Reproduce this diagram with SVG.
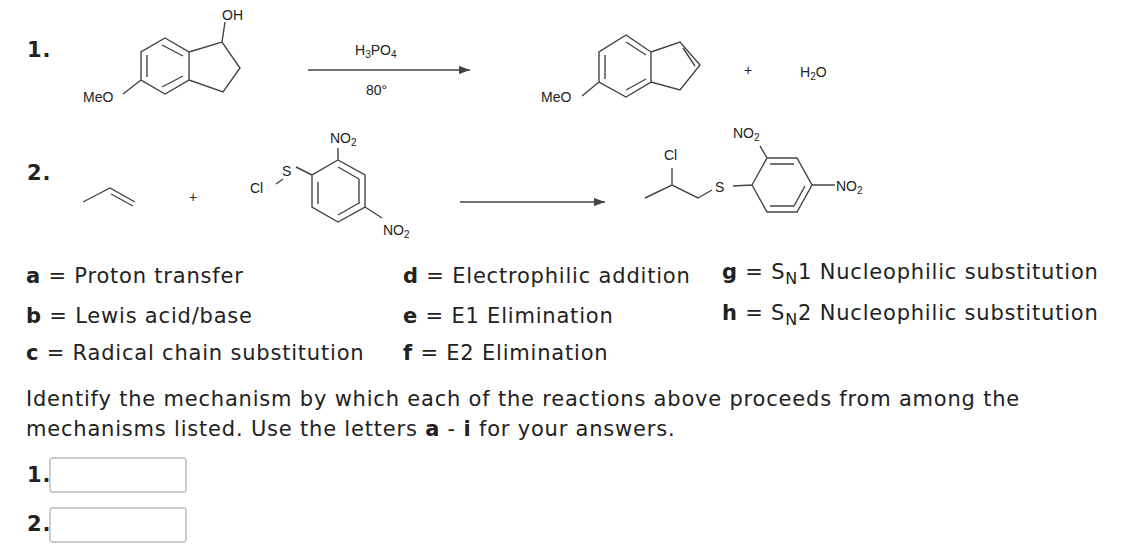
<svg xmlns="http://www.w3.org/2000/svg" width="1133" height="560" viewBox="0 0 1133 560">
<style>
.b{stroke:#444;stroke-width:1.4;fill:none}
.c{font-family:"Liberation Sans",Arial,sans-serif;font-size:14px;fill:#222}
.t{font-family:"DejaVu Sans",Verdana,sans-serif;font-size:21px;letter-spacing:0.8px;fill:#222}
.s{font-size:10px}
</style>
<defs><marker id="ah" markerWidth="8" markerHeight="6" refX="8" refY="3" orient="auto"><path d="M0,0L8,3L0,6z" fill="#444"/></marker></defs>
<rect width="1133" height="560" fill="#fff"/>
<text class="t" x="27" y="57" font-weight="bold">1.</text>
<text class="t" x="27" y="180" font-weight="bold">2.</text>
<g id="reactant1">
<path class="b" d="M165,38L189,52L189,80L165,94L141,80L141,52Z M162,45L183,56 M147,55L147,77 M162,87L183,76 M189,52L222,42L240,68L223,92L189,80 M222,42L225,22 M141,80L123,94"/>
<text class="c" x="222" y="20">OH</text>
<text class="c" x="83" y="102">MeO</text>
</g>
<g id="arrow1"><line class="b" x1="308" y1="70" x2="470" y2="70" marker-end="url(#ah)"/>
<text class="c" x="355" y="55">H<tspan class="s" dy="3">3</tspan><tspan dy="-3">PO</tspan><tspan class="s" dy="3">4</tspan></text>
<text class="c" x="366" y="95">80°</text></g>
<g id="product1">
<path class="b" d="M626,35L651,52L651,82L626,97L599,82L599,52Z M626,42L646,55 M605,55L605,79 M626,90L646,79 M651,52L680,42L700,65L680,90L651,82 M683,48L695,66 M599,82L582,96"/>
<text class="c" x="541" y="102">MeO</text>
<text class="c" x="744" y="75">+</text>
<text class="c" x="800" y="77">H<tspan class="s" dy="3">2</tspan><tspan dy="-3">O</tspan></text>
</g>
<g id="propene"><path class="b" d="M83,202L110,188L135,202 M111,194L133,206"/></g>
<text class="c" x="189" y="202">+</text>
<g id="reactant2">
<path class="b" d="M338,160L365,175L365,207L338,222L312,207L312,175Z M338,167L359,179 M359,179L359,204 M318,182L318,204 M338,215L359,203 M312,175L296,167 M276,184L283,179 M338,160L338,148 M365,207L382,218"/>
<text class="c" x="250" y="193">Cl</text>
<text class="c" x="282" y="176">S</text>
<text class="c" x="330" y="143">NO<tspan class="s" dy="3">2</tspan></text>
<text class="c" x="383" y="235">NO<tspan class="s" dy="3">2</tspan></text>
</g>
<g id="arrow2"><line class="b" x1="460" y1="202" x2="605" y2="202" marker-end="url(#ah)"/></g>
<g id="product2">
<path class="b" d="M645,198L672,185L698,198L712,190 M672,185L672,168 M733,186L752,185 M752,185L767,158L797,158L812,185L797,212L767,212Z M770,164L794,164 M805,186L794,206 M770,206L794,206 M767,158L760,146 M812,185L835,185"/>
<text class="c" x="664" y="160">Cl</text>
<text class="c" x="715" y="192">S</text>
<text class="c" x="733" y="138">NO<tspan class="s" dy="3">2</tspan></text>
<text class="c" x="836" y="191">NO<tspan class="s" dy="3">2</tspan></text>
</g>
<text class="t" x="26" y="283"><tspan font-weight="bold">a</tspan> = Proton transfer</text>
<text class="t" x="26" y="323"><tspan font-weight="bold">b</tspan> = Lewis acid/base</text>
<text class="t" x="26" y="360"><tspan font-weight="bold">c</tspan> = Radical chain substitution</text>
<text class="t" x="403" y="283"><tspan font-weight="bold">d</tspan> = Electrophilic addition</text>
<text class="t" x="403" y="323"><tspan font-weight="bold">e</tspan> = E1 Elimination</text>
<text class="t" x="403" y="360"><tspan font-weight="bold">f</tspan> = E2 Elimination</text>
<text class="t" x="722" y="279"><tspan font-weight="bold">g</tspan> = S<tspan font-size="16" dy="5">N</tspan><tspan dy="-5">1 Nucleophilic substitution</tspan></text>
<text class="t" x="722" y="320"><tspan font-weight="bold">h</tspan> = S<tspan font-size="16" dy="5">N</tspan><tspan dy="-5">2 Nucleophilic substitution</tspan></text>
<text class="t" x="26" y="406">Identify the mechanism by which each of the reactions above proceeds from among the</text>
<text class="t" x="26" y="436">mechanisms listed. Use the letters <tspan font-weight="bold">a</tspan> - <tspan font-weight="bold">i</tspan> for your answers.</text>
<text class="t" x="27" y="482" font-weight="bold">1.</text>
<rect x="50" y="458" width="136" height="34" rx="2" fill="#fff" stroke="#999"/>
<text class="t" x="27" y="531" font-weight="bold">2.</text>
<rect x="50" y="508" width="136" height="34" rx="2" fill="#fff" stroke="#999"/>
</svg>
